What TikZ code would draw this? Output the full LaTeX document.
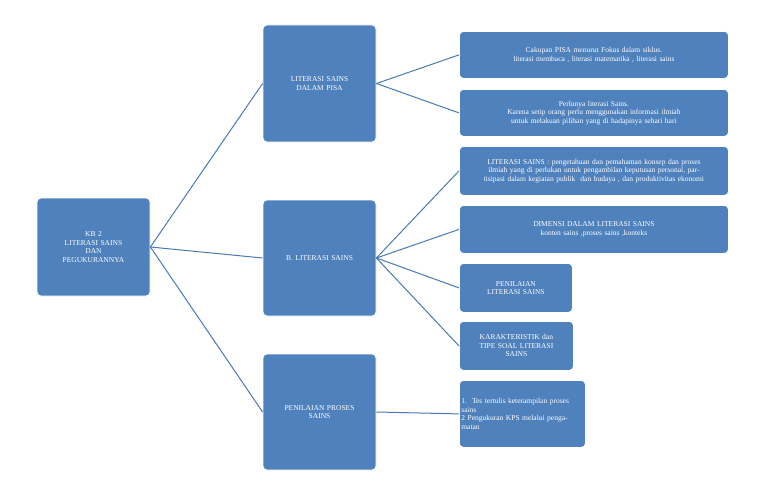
\documentclass[tikz,border=0pt]{standalone}
\usepackage{fontspec}
\setmainfont{Liberation Serif}
\begin{document}
\begin{tikzpicture}[x=1pt,y=-1pt,
  box/.style={draw=white,line width=0.8pt,fill=boxblue,rounded corners=4pt,text=white,align=center,font=\fontsize{7.5}{8.5}\selectfont,inner sep=2pt},
  link/.style={draw=linkblue,line width=1pt}]
\definecolor{boxblue}{HTML}{4F81BD}
\definecolor{linkblue}{HTML}{4A7AB5}
\useasboundingbox (0,0) rectangle (768,503);
\fill[white] (0,0) rectangle (768,503);
\node[box,minimum width=113pt,minimum height=98pt,text width=105pt] (root) at (93.5,247) {KB 2\\LITERASI SAINS\\DAN\\PEGUKURANNYA};
\node[box,minimum width=113pt,minimum height=117pt,text width=105pt] (a) at (319.5,83.5) {LITERASI SAINS\\DALAM PISA};
\node[box,minimum width=113pt,minimum height=116pt,text width=105pt] (b) at (319.5,258) {B. LITERASI SAINS};
\node[box,minimum width=113pt,minimum height=116pt,text width=105pt] (c) at (319.5,412) {PENILAIAN PROSES\\SAINS};
\node[box,minimum width=269pt,minimum height=47pt,text width=262pt,anchor=north west] (r1) at (459,31) {Cakupan PISA menurut Fokus dalam siklus.\\literasi membaca , literasi matematika , literasi sains};
\node[box,minimum width=269pt,minimum height=47pt,text width=262pt,anchor=north west] (r2) at (459,89) {Perlunya literasi Sains.\\Karena setip orang perlu menggunakan informasi ilmiah untuk melakuan pilihan yang di hadapinya sehari hari};
\node[box,minimum width=269pt,minimum height=49pt,text width=265pt,anchor=north west] (r3) at (459,146) {LITERASI SAINS : pengetahuan dan pemahaman konsep dan proses ilmiah yang di perlukan untuk pengambilan keputusan personal, partisipasi dalam kegiatan publik\ \ dan budaya , dan produktivitas ekonomi};
\node[box,minimum width=269pt,minimum height=48pt,text width=262pt,anchor=north west,align=center] (r4) at (459,205) {DIMENSI DALAM LITERASI SAINS\\konten sains ,proses sains ,konteks\\[6pt]};
\node[box,minimum width=113pt,minimum height=49pt,text width=108pt,anchor=north west] (r5) at (459,263) {PENILAIAN\\LITERASI SAINS};
\node[box,minimum width=113pt,minimum height=49pt,text width=110pt,anchor=north west] (r6) at (459,321) {KARAKTERISTIK dan\\TIPE SOAL LITERASI\\SAINS\\[12pt]};
\node[box,minimum width=126pt,minimum height=67pt,text width=122pt,anchor=north west,align=left] (r7) at (459,380) {1.\ \ Tes tertulis keterampilan proses sains\\2 Pengukuran KPS melalui pengamatan\\[18pt]};
\draw[link] (root.east) -- (a.west);
\draw[link] (root.east) -- (b.west);
\draw[link] (root.east) -- (c.west);
\draw[link] (a.east) -- (r1.west);
\draw[link] (a.east) -- (r2.west);
\draw[link] (b.east) -- (r3.west);
\draw[link] (b.east) -- (r4.west);
\draw[link] (b.east) -- (r5.west);
\draw[link] (b.east) -- (r6.west);
\draw[link] (c.east) -- (r7.west);
\end{tikzpicture}
\end{document}
